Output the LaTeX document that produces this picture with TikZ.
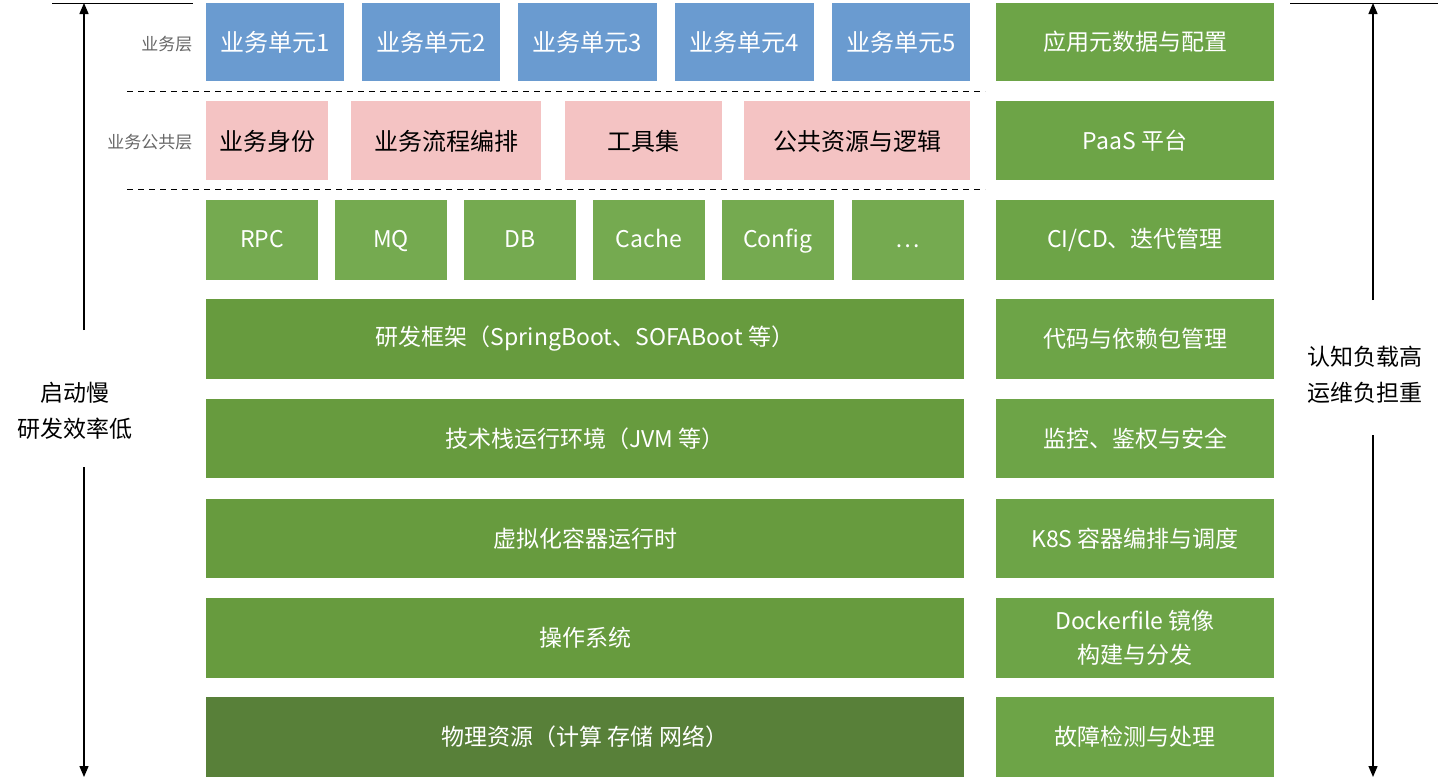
\documentclass[tikz,border=0pt]{standalone}
\usepackage{fontspec}
\setmainfont{Noto Sans CJK SC}
\usetikzlibrary{arrows.meta}
\definecolor{cblue}{HTML}{6A9BD0}
\definecolor{cpink}{HTML}{F4C3C3}
\definecolor{cgs}{HTML}{75AA50}
\definecolor{cgb}{HTML}{679B3E}
\definecolor{cgd}{HTML}{588039}
\definecolor{cgr}{HTML}{6DA447}
\begin{document}
\begin{tikzpicture}[x=1pt,y=-1pt,
  bx/.style={inner sep=0,font=\fontsize{23}{34}\selectfont,text=white,align=center},
  lbl/.style={font=\fontsize{17}{20}\selectfont,text=black!60},
  side/.style={font=\fontsize{23}{36}\selectfont,align=center},
  arr/.style={-{Triangle[length=11pt,width=9pt]},line width=1.3pt}]
\useasboundingbox (0,0) rectangle (1440,780);
\foreach \a/\b/\t in {206/344/业务单元1,362/500/业务单元2,518/657/业务单元3,675/814/业务单元4,832/970/业务单元5}{
 \fill[cblue] (\a,3) rectangle (\b,81); \node[bx,font=\fontsize{24}{30}\selectfont] at ({(\a+\b)/2},42) {\t};}
\foreach \a/\b/\t in {206/328/业务身份,351/541/业务流程编排,565/722/工具集,744/970/公共资源与逻辑}{
 \fill[cpink] (\a,101) rectangle (\b,180); \node[bx,text=black,font=\fontsize{24}{30}\selectfont] at ({(\a+\b)/2},141) {\t};}
\foreach \a/\b/\t in {206/318/RPC,335/447/MQ,464/576/DB,593/705/Cache,722/834/Config,852/964/…}{
 \fill[cgs] (\a,200) rectangle (\b,280); \node[bx] at ({(\a+\b)/2},241) {\strut\t};}
\foreach \y/\h/\c/\t in {299/379/cgb/研发框架（SpringBoot、SOFABoot 等）,399/478/cgb/技术栈运行环境（JVM 等）,499/578/cgb/虚拟化容器运行时,598/678/cgb/操作系统,697/777/cgd/物理资源（计算 存储 网络）}{
 \fill[\c] (206,\y) rectangle (964,\h); \node[bx] at (585,{(\y+\h)/2}) {\t};}
\foreach \y/\h/\t in {3/81/应用元数据与配置,101/180/PaaS 平台,200/280/{CI/CD、迭代管理},299/379/代码与依赖包管理,399/478/监控、鉴权与安全,499/578/K8S 容器编排与调度,598/678/{Dockerfile 镜像\\构建与分发},697/777/故障检测与处理}{
 \fill[cgr] (996,\y) rectangle (1274,\h); \node[bx] at (1135,{(\y+\h)/2}) {\t};}
\draw[line width=1pt,dash pattern=on 6pt off 5pt] (127,91) -- (985,91);
\draw[line width=1pt,dash pattern=on 6pt off 5pt] (127,189) -- (985,189);
\node[lbl,anchor=east] (l1) at (196,44) {业务层};
\node[lbl,anchor=east] (l2) at (196,142) {业务公共层};
\draw[line width=1pt] (52,3) -- (193,3);
\node[side] (lt) at (75,411) {启动慢\\研发效率低};
\coordinate (lu) at (84,3); \coordinate (ld) at (84,777);
\draw[arr] (84,330) -- (lu);
\draw[arr] (84,467) -- (ld);
\draw[line width=1pt] (1290,3) -- (1438,3);
\node[side] (rt) at (1365,375) {认知负载高\\运维负担重};
\coordinate (ru) at (1373,3); \coordinate (rd) at (1373,777);
\draw[arr] (1373,300) -- (ru);
\draw[arr] (1373,435) -- (rd);
\end{tikzpicture}
\end{document}
